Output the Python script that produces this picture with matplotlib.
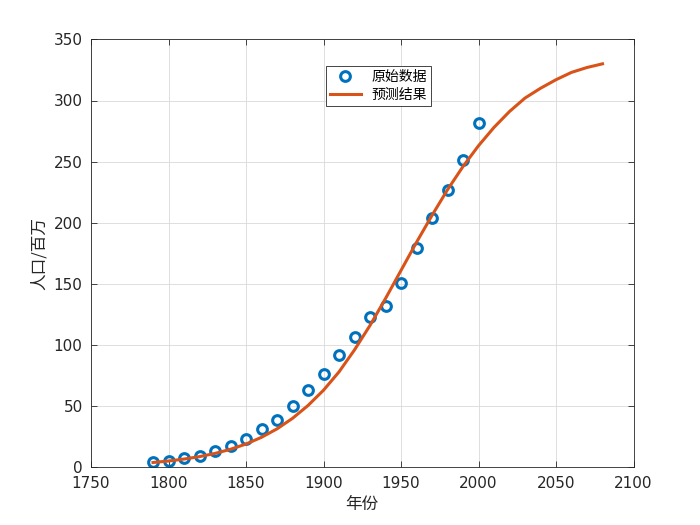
import matplotlib
matplotlib.use("Agg")
import matplotlib.pyplot as plt

plt.rcParams['font.family'] = ['Noto Sans CJK SC', 'DejaVu Sans']

years = [1790,1800,1810,1820,1830,1840,1850,1860,1870,1880,1890,1900,1910,1920,1930,1940,1950,1960,1970,1980,1990,2000]
pop = [3.9,5.3,7.2,9.6,12.9,17.1,23.2,31.4,38.6,50.2,62.9,76.0,92.0,106.5,123.2,131.7,150.7,179.3,204.0,226.5,251.4,281.4]
fit_years = list(range(1790, 2081, 10))
fit_pop = [3.9,5.1,6.7,8.7,11.3,14.7,19.0,24.5,31.4,40.0,50.5,63,78,96,116,138,161,184,206,227,246,263,278,291,302,310,317,323,327,330]

fig = plt.figure(figsize=(7,5.25), dpi=100)
ax = fig.add_axes([0.13, 0.11, 0.775, 0.815])
ax.plot(years, pop, 'o', mfc='none', mec='#0072BD', mew=2.2, ms=7, label='原始数据')
ax.plot(fit_years, fit_pop, '-', color='#D95319', lw=2.2, label='预测结果')
ax.set_xlim(1750, 2100)
ax.set_ylim(0, 350)
ax.set_xticks(range(1750, 2101, 50))
ax.set_yticks(range(0, 351, 50))
ax.grid(True, color='#d9d9d9', lw=0.6)
ax.set_axisbelow(True)
for s in ax.spines.values():
    s.set_color('#262626'); s.set_linewidth(0.6)
ax.tick_params(direction='in', length=4, width=0.6, labelsize=11, colors='#262626', top=True, right=True, pad=6)
for lab in ax.get_xticklabels() + ax.get_yticklabels():
    lab.set_fontfamily('DejaVu Sans')
ax.set_xlabel('年份', fontsize=12, color='#262626')
ax.set_ylabel('人口/百万', fontsize=12, color='#262626')
leg = ax.legend(loc='upper left', bbox_to_anchor=(0.42, 0.955), fancybox=False, edgecolor='#262626', fontsize=10, framealpha=1, handlelength=2.2, borderpad=0.3, labelspacing=0.3)
leg.get_frame().set_linewidth(0.6)
fig.savefig('out.png', dpi=100)
